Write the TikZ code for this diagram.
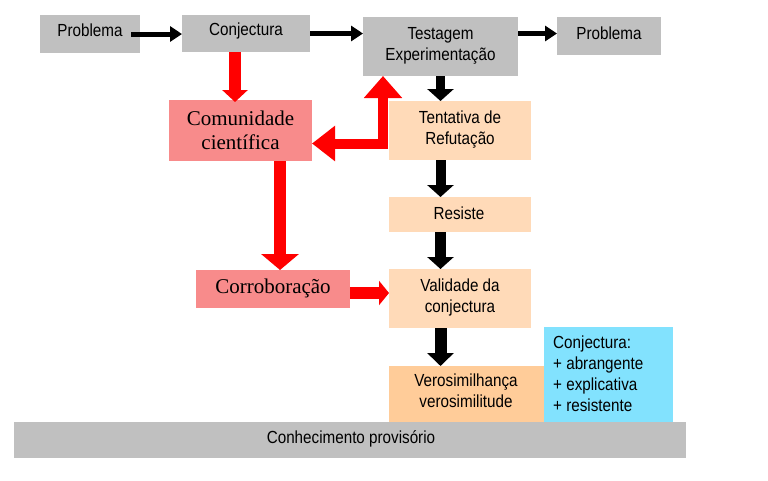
\documentclass[tikz,border=0pt]{standalone}
\usepackage{fontspec}
\setmainfont{Liberation Sans}[FakeStretch=0.87]
\newfontfamily\serifo{Liberation Serif}
\usetikzlibrary{arrows.meta}
\definecolor{boxgray}{HTML}{C0C0C0}
\definecolor{salmon}{HTML}{F88B8B}
\definecolor{peach}{HTML}{FFDAB8}
\definecolor{orangepale}{HTML}{FFCC99}
\definecolor{skyc}{HTML}{82E2FE}
\definecolor{redarrow}{HTML}{FF0000}
\begin{document}
\begin{tikzpicture}[x=1pt,y=-1pt,
  box/.style={draw=none, inner sep=0pt, outer sep=0pt},
  txt/.style={inner sep=0pt, font=\fontsize{17.5}{21}\selectfont, align=center},
  stxt/.style={inner sep=0pt, font=\serifo\fontsize{21}{24}\selectfont, align=center},
  harrow/.style={draw=black, line width=5pt, -{Triangle[length=12pt,width=15pt]}},
  varrow/.style={draw=black, line width=10pt, -{Triangle[length=12pt,width=26pt]}},
  rarrow/.style={draw=redarrow, line width=12pt}
]
\fill[white] (0,0) rectangle (768,480);
\useasboundingbox (0,0) rectangle (768,480);

% boxes
\node[box, fill=boxgray, minimum width=100pt, minimum height=38pt] (p1) at (90,34) {};
\node[box, fill=boxgray, minimum width=128pt, minimum height=37pt] (conj) at (246,33.5) {};
\node[box, fill=boxgray, minimum width=155pt, minimum height=59pt] (test) at (440.5,46.5) {};
\node[box, fill=boxgray, minimum width=104pt, minimum height=38pt] (p2) at (609,36) {};
\node[box, fill=salmon, minimum width=143pt, minimum height=61pt] (comu) at (240.5,130.5) {};
\node[box, fill=peach, minimum width=142pt, minimum height=59pt] (tent) at (460,130.5) {};
\node[box, fill=peach, minimum width=142pt, minimum height=35pt] (res) at (460,214.5) {};
\node[box, fill=salmon, minimum width=154pt, minimum height=38pt] (corr) at (273,289) {};
\node[box, fill=peach, minimum width=142pt, minimum height=59pt] (val) at (460,298.5) {};
\node[box, fill=orangepale, minimum width=155pt, minimum height=56pt] (vero) at (466.5,394) {};
\node[box, fill=skyc, minimum width=129pt, minimum height=95pt] (cyan) at (608.5,374.5) {};
\node[box, fill=boxgray, minimum width=672pt, minimum height=36pt] (bar) at (350,440) {};

% black arrows
\draw[harrow] ([xshift=-9pt]p1.east) -- (p1.east -| conj.west);
\draw[harrow] (conj.east) -- (conj.east -| test.west);
\draw[harrow] (test.east |- conj.east) -- (p2.west |- conj.east);
\draw[varrow, line width=9pt] (test.south) -- (test.south |- tent.north);
\draw[varrow] (tent.south -| test.south) -- (res.north -| test.south);
\draw[varrow, line width=11pt] (res.south -| test.south) -- (val.north -| test.south);
\draw[varrow, line width=12pt, -{Triangle[length=13pt,width=26pt]}] (val.south -| test.south) -- (vero.north -| test.south);

% red arrows
\draw[rarrow, -{Triangle[length=12pt,width=25pt]}] ([xshift=-11pt]conj.south) -- ([xshift=-11pt,yshift=-2pt]conj.south |- comu.north);
\draw[rarrow, -{Triangle[length=16pt,width=37pt]}] ([xshift=39.5pt]comu.south) -- ([xshift=39.5pt]comu.south |- corr.north);
\draw[rarrow, -{Triangle[length=10pt,width=24pt]}] ([yshift=-4pt]corr.east) -- ([yshift=-4pt]corr.east -| val.west);
\draw[rarrow, line width=10pt, miter limit=10, {Triangle[length=23pt,width=34pt]}-{Triangle[length=22pt,width=37pt]}]
  ([yshift=-13pt]comu.east) -| ([xshift=-57.5pt]test.south);

% texts
\node[txt, anchor=base] (p1t) at (90,36.7) {Problema};
\node[txt, anchor=base] (conjt) at (246,35.7) {Conjectura};
\node[txt, anchor=north] (testt) at (440.5,27.3) {Testagem\\Experimentação};
\node[txt, anchor=base] (p2t) at (609,39) {Problema};
\node[stxt, anchor=north] (comut) at (240.5,110.7) {Comunidade\\científica};
\node[txt, anchor=north] (tentt) at (460,110.6) {Tentativa de\\Refutação};
\node[txt, anchor=base] (rest) at (459,219) {Resiste};
\node[stxt, anchor=base] (corrt) at (273,293) {Corroboração};
\node[txt, anchor=north] (valt) at (460,278.3) {Validade da\\conjectura};
\node[txt, anchor=north] (verot) at (466,374) {Verosimilhança\\verosimilitude};
\node[txt, anchor=north west, align=left] (cyant) at (553,336) {Conjectura:\\+ abrangente\\+ explicativa\\+ resistente};
\node[txt, anchor=base] (bart) at (351,443) {Conhecimento provisório};
\end{tikzpicture}
\end{document}
